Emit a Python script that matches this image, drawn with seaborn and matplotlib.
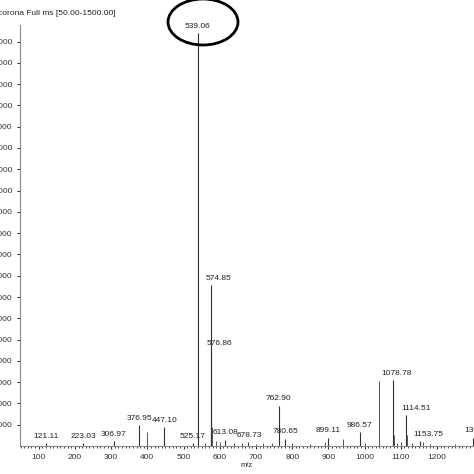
import matplotlib
matplotlib.use("Agg")
import matplotlib.pyplot as plt
import seaborn as sns
from matplotlib.patches import Ellipse

sns.set_style("ticks")
plt.rcParams['font.family'] = ['Liberation Sans', 'DejaVu Sans']

# labelled peaks
mz = [121.11, 223.03, 306.97, 376.95, 447.10, 525.17, 539.06, 574.85, 576.86,
      613.08, 678.73, 762.90, 780.65, 899.11, 986.57, 1078.78, 1114.51, 1153.75, 1300.0]
inten = [1500, 1200, 2500, 10000, 9000, 1500, 194000, 75500, 45000,
         3000, 1800, 19000, 3500, 4000, 6500, 31000, 14500, 2500, 4000]
labels = ["121.11", "223.03", "306.97", "376.95", "447.10", "525.17", "539.06", "574.85", "576.86",
          "613.08", "678.73", "762.90", "780.65", "899.11", "986.57", "1078.78", "1114.51", "1153.75", "1300.0"]
# unlabelled peaks
mz2 = [400, 540, 541, 560, 578, 590, 600, 640, 660, 700, 720, 745, 800, 850, 890, 940,
       1000, 1040, 1080, 1090, 1100, 1116, 1130, 1160, 1180, 1250]
int2 = [6500, 8000, 3000, 1500, 9000, 2500, 2000, 1500, 1200, 1000, 1500, 1200, 1500, 1000, 2000, 3500,
        1500, 30500, 5000, 1500, 2000, 5000, 1500, 2000, 1000, 800]

fig = plt.figure(figsize=(4.74, 4.74), dpi=100)
ax = fig.add_axes([0.042, 0.059, 0.958, 0.888])
ax.vlines(mz2, 0, int2, color="#555555", lw=0.7)
ax.vlines(mz, 0, inten, color="#333333", lw=0.8)
shift = {"574.85": 22, "576.86": 22, "613.08": 2, "678.73": 2, "1078.78": 10,
         "1114.51": 28, "1153.75": 22, "1300.0": 12}
for x, y, t in zip(mz, inten, labels):
    ax.text(x + shift.get(t, 0), y + 1500, t, ha="center", va="bottom", fontsize=6, color="#222222")
ax.set_xlim(48, 1302)
ax.set_ylim(0, 197700)
ax.set_xticks(range(100, 1300, 100))
ax.set_xticks(range(50, 1300, 10), minor=True)
ax.set_yticks(range(10000, 190001, 10000))
ax.set_yticklabels([str(v) for v in range(10000, 190001, 10000)])
ax.tick_params(labelsize=6, length=2, colors="#333333")
ax.tick_params(which="minor", length=1.5)
ax.set_xlabel("m/z", fontsize=5.5, labelpad=1)
sns.despine(ax=ax, top=True, right=True)
for s in ["left", "bottom"]:
    ax.spines[s].set_color("#888888")
    ax.spines[s].set_linewidth(0.8)
fig.text(-0.005, 0.972, "corona Full ms [50.00-1500.00]", fontsize=6, va="center", color="#222222")
fig.patches.append(Ellipse((203 / 474, 1 - 22 / 474), 70 / 474, 46 / 474, transform=fig.transFigure,
                           fill=False, lw=2, ec="black"))
fig.savefig("out.png", dpi=100)
